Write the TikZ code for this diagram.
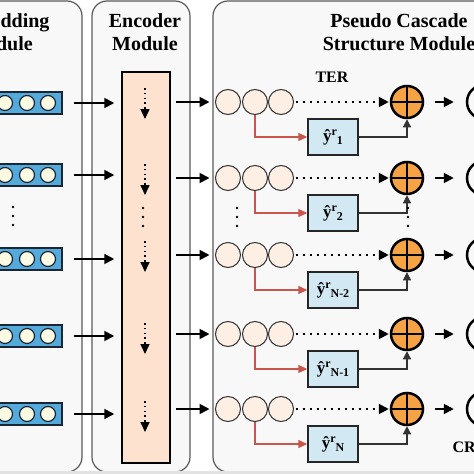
\documentclass[tikz,border=0pt]{standalone}
\usepackage{fontspec}
\setmainfont{Liberation Serif}
\usetikzlibrary{arrows.meta}
\definecolor{panelfill}{HTML}{F8F8F8}
\definecolor{panelline}{HTML}{5A5A5A}
\definecolor{embblue}{HTML}{55AADC}
\definecolor{embline}{HTML}{1A2634}
\definecolor{cream}{HTML}{FBFBE4}
\definecolor{peach}{HTML}{FDE2CF}
\definecolor{hidfill}{HTML}{FDEFE4}
\definecolor{hidline}{HTML}{333333}
\definecolor{plusorange}{HTML}{F5A345}
\definecolor{lightblue}{HTML}{D2E9F4}
\definecolor{redarrow}{HTML}{C8564C}
\definecolor{bandgray}{HTML}{E2E2E2}
\begin{document}
\begin{tikzpicture}[x=1pt,y=-1pt,
  panel/.style={draw=panelline, fill=panelfill, line width=1.2pt, rounded corners=15pt},
  embvec/.style={draw=embline, fill=embblue, line width=2pt, minimum width=72pt, minimum height=22pt, inner sep=0pt},
  embdot/.style={circle, draw=embline, fill=cream, line width=1.2pt, minimum size=15pt, inner sep=0pt},
  encbox/.style={draw=black, fill=peach, line width=1.5pt, minimum width=48pt, minimum height=391pt, inner sep=0pt},
  hid/.style={circle, draw=hidline, fill=hidfill, line width=1pt, minimum size=25pt, inner sep=0pt},
  plusnode/.style={circle, draw=black, fill=plusorange, line width=2.5pt, minimum size=32pt, inner sep=0pt},
  ybox/.style={draw=black!85, fill=lightblue, line width=1.4pt, minimum width=50pt, minimum height=36pt, inner sep=0pt},
  outc/.style={circle, draw=black, fill=panelfill, line width=2.5pt, minimum size=34pt, inner sep=0pt},
  arr/.style={-{Triangle[length=10pt,width=10pt]}, line width=1.8pt},
  encdots/.style={-{Triangle[length=10pt,width=9pt]}, line width=1.6pt, dash pattern=on 1.6pt off 3.2pt},
  dotarr/.style={-{Triangle[length=10pt,width=10pt]}, line width=2pt, dash pattern=on 2pt off 5pt},
  redarr/.style={-{Triangle[length=9pt,width=8pt]}, draw=redarrow, line width=1.2pt},
  grayarr/.style={-{Triangle[length=8pt,width=8pt]}, draw=black!80, line width=1.2pt},
  crossline/.style={line width=2pt},
  title/.style={font=\fontsize{20}{23}\selectfont\bfseries, align=center},
  lab/.style={font=\fontsize{16}{19}\selectfont\bfseries},
  dotv/.style={fill=black}
]
\useasboundingbox (0,0) rectangle (474,474);
\clip (0,0) rectangle (474,474);
\fill[white] (0,0) rectangle (474,474);

% panels
\draw[panel] (-90,1) rectangle (82,472);
\draw[panel] (92,1) rectangle (190,472);
\draw[panel] (213,1) rectangle (570,472);
\fill[bandgray] (0,470.5) rectangle (474,474);

% titles
\node[title] (embtitle) at (0,32.5) {Embedding\\Module};
\node[title] (enctitle) at (145,32.5) {Encoder\\Module};
\node[title] (pcstitle) at (399,32.5) {Pseudo Cascade\\Structure Module};
\node[lab] (ter) at (332,77) {TER};
\node[lab, anchor=west] (crf) at (449,447) {CRF};

% encoder box
\node[encbox] (enc) at (146,267.5) {};

% rows
\foreach \i/\yl/\yr/\ye/\lbl in {1/103/102/103/1, 2/175/178/179/2, 3/259/255/256/N-2, 4/336/334/338/N-1, 5/414/409/416/N}{
  % embedding vector
  \node[embvec] (emb\i) at (26,\yl) {};
  \node[embdot] (ed\i a) at (5,\yl) {};
  \node[embdot] (ed\i b) at (27,\yl) {};
  \node[embdot] (ed\i c) at (48,\yl) {};
  \draw[arr, shorten <=11pt, shorten >=7pt] (emb\i.east) -- (enc.west |- emb\i.east);
  % encoder inner arrow
  \coordinate (et\i) at (145,\ye-15);
  \coordinate (eb\i) at (145,\ye+16);
  \draw[encdots] (et\i) -- (eb\i);
  % pseudo cascade
  \node[hid] (a\i) at (228,\yr) {};
  \node[hid] (b\i) at (255,\yr) {};
  \node[hid] (c\i) at (281,\yr) {};
  \draw[arr, shorten <=5pt, shorten >=5.5pt] (enc.east |- a\i.west) -- (a\i.west);
  \node[plusnode] (p\i) at (407,\yr) {};
  \draw[crossline] (p\i.north) -- (p\i.south);
  \draw[crossline] (p\i.west) -- (p\i.east);
  \node[ybox] (y\i) at (333,\yr+35) {\fontsize{17}{20}\selectfont\bfseries ŷ\raisebox{6pt}{\fontsize{12}{14}\selectfont r}\raisebox{-3pt}{\fontsize{12}{14}\selectfont \lbl}};
  \draw[dotarr, shorten <=1.5pt, shorten >=1pt] (c\i.east) -- (p\i.west);
  \draw[redarr] (b\i.south) |- (y\i.west);
  \draw[grayarr] (y\i.east) -| (p\i.south);
  \node[outc] (o\i) at (484,\yr) {};
  \draw[arr, shorten <=11pt, shorten >=12pt] (p\i.east) -- (o\i.west);
}

% vertical dots
\foreach \yy in {207,216,225}{
  \fill[dotv] (13,\yy) circle (1.4pt);
  \fill[dotv] (143,\yy+1) circle (1.4pt);
  \fill[dotv] (237,\yy+1) circle (1.4pt);
  \fill[dotv] (408,\yy+1) circle (1.4pt);
}
\end{tikzpicture}
\end{document}
